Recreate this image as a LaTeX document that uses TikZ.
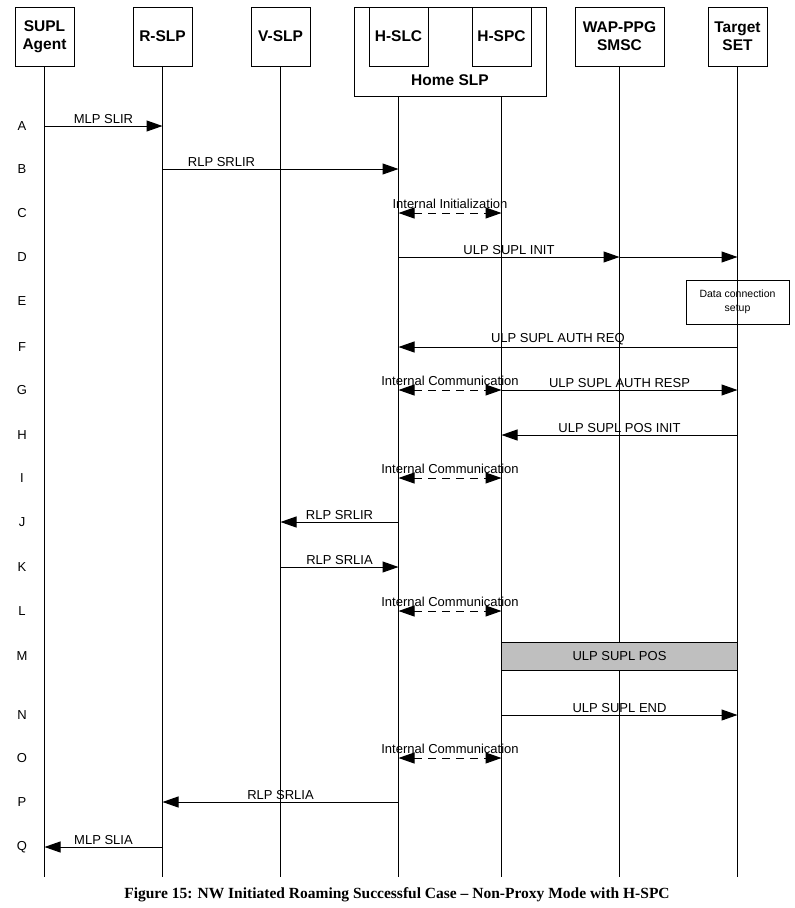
\documentclass[tikz,border=0pt]{standalone}
\usepackage{fontspec}
\setmainfont{Liberation Sans}
\newfontfamily\capfont{Liberation Serif}
\usetikzlibrary{arrows.meta}
\begin{document}
\begin{tikzpicture}[x=1pt,y=-1pt,
  ent/.style={draw,line width=1pt,minimum width=59pt,minimum height=59pt,inner sep=0pt,align=center,font=\fontsize{15.5}{18}\selectfont\bfseries},
  life/.style={line width=0.9pt},
  msg/.style={line width=1pt,-{Triangle[length=16pt,width=11pt]}},
  imsg/.style={line width=1pt,dashed,dash pattern=on 8pt off 6pt,{Triangle[length=16pt,width=11pt]}-{Triangle[length=16pt,width=11pt]}},
  lbl/.style={font=\fontsize{13}{15}\selectfont,above,inner sep=2pt},
  row/.style={font=\fontsize{13}{15}\selectfont}]
\useasboundingbox (0,0) rectangle (795,908);
\node[draw,line width=1pt,minimum width=192pt,minimum height=89pt,inner sep=0pt] (home) at (450,51.5) {};
\node[font=\fontsize{15.5}{18}\selectfont\bfseries] (homelbl) at (450,80) {Home SLP};
\node[ent] (sa) at (44.5,36.5) {SUPL\\Agent};
\node[ent] (rs) at (162.5,36.5) {R-SLP};
\node[ent] (vs) at (280.5,36.5) {V-SLP};
\node[ent] (hl) at (398.5,36.5) {H-SLC};
\node[ent] (hp) at (501.5,36.5) {H-SPC};
\node[ent,minimum width=89pt] (wp) at (619.5,36.5) {WAP-PPG\\SMSC};
\node[ent] (ts) at (737.5,36.5) {Target\\SET};
\foreach \n/\x in {sa/44.5,rs/162.5,vs/280.5,wp/619.5,ts/737.5}{
  \coordinate (\n e) at (\x,877);
  \draw[life] (\n.south) -- (\n e);}
\coordinate (hle) at (398.5,877);
\coordinate (hpe) at (501.5,877);
\coordinate (hls) at (398.5,96);
\coordinate (hps) at (501.5,96);
\draw[life] (hls) -- (hle);
\draw[life] (hps) -- (hpe);
\foreach \l/\y in {A/126,B/169,C/213,D/257,E/301,F/347,G/390,H/435,I/478,J/522,K/567,L/611,M/656,N/715,O/758,P/802,Q/847}{
  \node[row] (row\l) at (22,\y) {\l};
  \coordinate (sa\l) at (44.5,\y);
  \coordinate (rs\l) at (162.5,\y);
  \coordinate (vs\l) at (280.5,\y);
  \coordinate (hl\l) at (398.5,\y);
  \coordinate (hp\l) at (501.5,\y);
  \coordinate (wp\l) at (619.5,\y);
  \coordinate (ts\l) at (737.5,\y);
}
\draw[msg] (saA) -- node[lbl]{MLP SLIR} (rsA);
\draw[msg] (rsB) -- node[lbl,pos=0.25]{RLP SRLIR} (hlB);
\draw[imsg] (hlC) -- node[lbl,yshift=2pt]{Internal Initialization} (hpC);
\draw[msg] (hlD) -- node[lbl]{ULP SUPL INIT} (wpD);
\draw[msg] (wpD) -- (tsD);
\node[draw,line width=1pt,minimum width=103pt,minimum height=44pt,align=center,font=\fontsize{10.5}{14}\selectfont] (dc) at (737.5,302) {Data connection\\setup};
\draw[msg] (tsF) -- node[lbl,pos=0.53]{ULP SUPL AUTH REQ} (hlF);
\draw[imsg] (hlG) -- node[lbl,yshift=2pt]{Internal Communication} (hpG);
\draw[msg] (hpG) -- node[lbl]{ULP SUPL AUTH RESP} (tsG);
\draw[msg] (tsH) -- node[lbl]{ULP SUPL POS INIT} (hpH);
\draw[imsg] (hlI) -- node[lbl,yshift=2pt]{Internal Communication} (hpI);
\draw[msg] (hlJ) -- node[lbl]{RLP SRLIR} (vsJ);
\draw[msg] (vsK) -- node[lbl]{RLP SRLIA} (hlK);
\draw[imsg] (hlL) -- node[lbl,yshift=2pt]{Internal Communication} (hpL);
\node[draw,line width=1pt,fill=black!25,minimum width=236pt,minimum height=28pt,inner sep=0pt,font=\fontsize{13}{15}\selectfont] (pos) at (619.5,656) {ULP SUPL POS};
\draw[msg] (hpN) -- node[lbl]{ULP SUPL END} (tsN);
\draw[imsg] (hlO) -- node[lbl,yshift=2pt]{Internal Communication} (hpO);
\draw[msg] (hlP) -- node[lbl]{RLP SRLIA} (rsP);
\draw[msg] (rsQ) -- node[lbl]{MLP SLIA} (saQ);
\node[font=\capfont\fontsize{15.5}{18}\selectfont\bfseries] (cap) at (397,895) {Figure 15: NW Initiated Roaming Successful Case – Non-Proxy Mode with H-SPC};
\end{tikzpicture}
\end{document}
